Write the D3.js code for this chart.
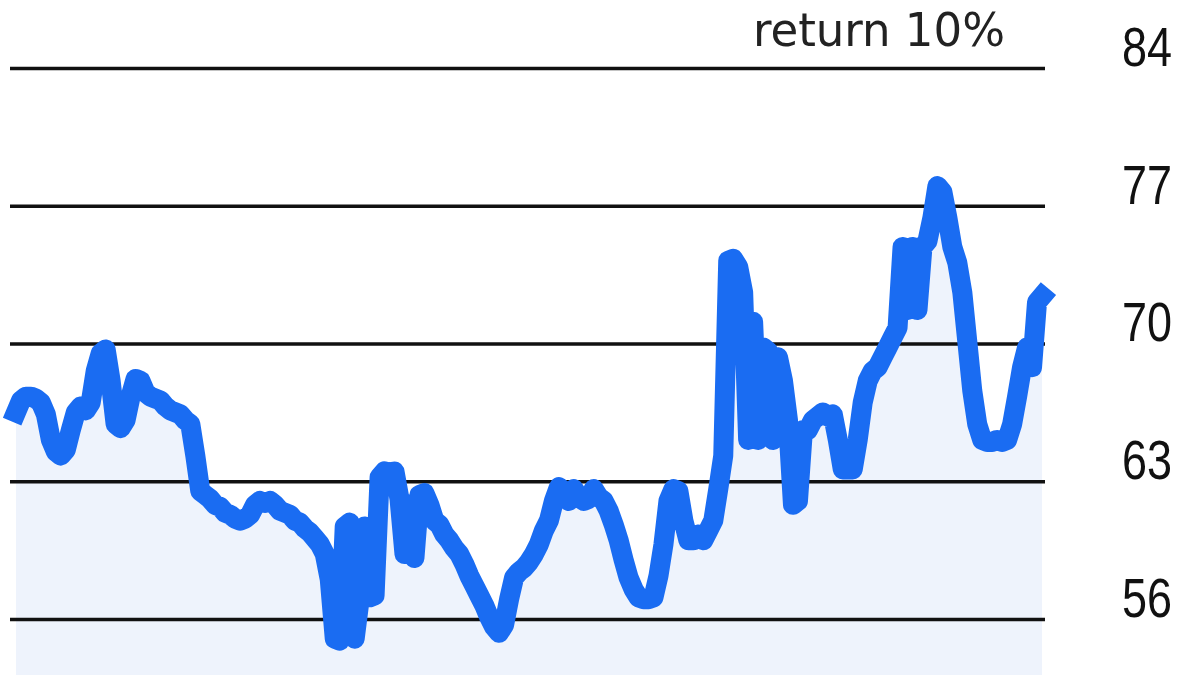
<!DOCTYPE html>
<html>
<head>
<meta charset="utf-8">
<style>
  html, body { margin: 0; padding: 0; background: #fff; }
  svg { display: block; }
</style>
</head>
<body>
<div class="chart"></div>
<script src="https://cdn.jsdelivr.net/npm/d3@7"></script>
<script>
'use strict';

// Values, one per trading day, left to right
var values = [
  66.5, 67.1, 67.3, 67.3, 67.2, 67.0, 66.4, 65.1, 64.5, 64.3,
  64.6, 65.6, 66.5, 66.8, 66.6, 67.0, 68.6, 69.5, 69.7, 68.1,
  65.9, 65.7, 66.1, 67.3, 68.2, 68.1, 67.5, 67.3, 67.2, 67.1,
  66.8, 66.6, 66.5, 66.4, 66.1, 65.9, 64.3, 62.5, 62.3, 62.1,
  61.8, 61.7, 61.4, 61.3, 61.1, 61.0, 61.1, 61.3, 61.8, 62.0,
  61.9, 62.0, 61.8, 61.5, 61.4, 61.3, 61.0, 60.9, 60.6, 60.4,
  60.1, 59.8, 59.3, 58.0, 55.0, 54.9, 60.7, 60.9, 55.0, 57.0,
  60.7, 57.1, 57.2, 63.2, 63.5, 63.4, 63.5, 62.1, 59.3, 61.8,
  59.1, 62.3, 62.4, 61.8, 61.0, 60.8, 60.3, 60.0, 59.6, 59.3,
  58.8, 58.2, 57.7, 57.2, 56.7, 56.1, 55.6, 55.3, 55.7, 57.0,
  58.1, 58.4, 58.6, 58.9, 59.3, 59.8, 60.5, 61.0, 62.0, 62.7,
  62.5, 62.0, 62.6, 62.2, 62.0, 62.1, 62.6, 62.2, 62.0, 61.5,
  60.8, 60.0, 59.0, 58.1, 57.5, 57.1, 57.0, 57.0, 57.1, 58.2,
  59.8, 62.0, 62.6, 62.5, 61.0, 60.0, 60.0, 60.3, 60.0, 60.5,
  61.0, 62.6, 64.3, 74.2, 74.3, 73.9, 72.6, 65.1, 71.1, 65.1,
  69.8, 69.6, 65.1, 69.3, 68.1, 66.1, 61.8, 62.0, 65.6, 65.6,
  66.1, 66.3, 66.5, 66.3, 66.4, 65.1, 63.6, 63.6, 63.6, 65.1,
  67.0, 68.1, 68.6, 68.8, 69.3, 69.8, 70.3, 70.8, 74.9, 71.7,
  74.9, 71.7, 74.9, 75.2, 76.4, 78.0, 77.7, 76.4, 74.9, 74.1,
  72.6, 70.1, 67.6, 65.9, 65.1, 65.0, 65.0, 65.1, 65.0, 65.1,
  65.9, 67.3, 68.8, 69.8, 68.8, 72.1, 72.4
];

// Day numbers for the x axis
var days = d3.range(values.length);

// Right hand axis
var tickValues = [56, 63, 70, 77, 84];
var title = 'return 10%';

(function() {
  // Width and height
  var w = 1200;
  var h = 675;
  var gridLeft = 10;
  var plotLeft = 16;
  var plotRight = 1042;
  var labelX = 1122;

  // Colors
  var LINE = '#1a6cf2';
  var FILL = '#eef3fc';
  var GRID = '#111';

  var svg = d3.select('.chart')
    .append('svg')
    .attr('width', w)
    .attr('height', h);

  // Scales
  var xScale = d3.scaleLinear()
    .domain([days[0], days[days.length - 1]])
    .range([plotLeft, plotRight]);

  var yScale = d3.scaleLinear()
    .domain([56, 84])
    .range([619, 68]);

  // Light area under the line
  var area = d3.area()
    .x(function(d, i) { return xScale(days[i]); })
    .y0(h)
    .y1(function(d) { return yScale(d); });

  svg.append('path')
    .datum(values)
    .attr('d', area)
    .attr('fill', FILL);

  // Gridlines and labels through an axis on the right
  var yAxis = d3.axisRight(yScale)
    .tickValues(tickValues)
    .tickSize(1045 - gridLeft)
    .tickPadding(labelX - 1045);

  var axis = svg.append('g')
    .attr('transform', 'translate(' + gridLeft + ',0)')
    .call(yAxis);

  axis.select('.domain').remove();
  axis.selectAll('.tick line')
    .attr('stroke', GRID)
    .attr('stroke-width', 3.5);
  axis.selectAll('.tick text')
    .attr('fill', '#111')
    .attr('dy', '-0.05em')
    .attr('font-family', '"Liberation Sans", sans-serif')
    .attr('font-size', 55)
    .attr('textLength', 50)
    .attr('lengthAdjust', 'spacingAndGlyphs');

  // Thick blue line
  var line = d3.line()
    .x(function(d, i) { return xScale(days[i]); })
    .y(function(d) { return yScale(d); });

  svg.append('path')
    .datum(values)
    .attr('d', line)
    .attr('fill', 'none')
    .attr('stroke', LINE)
    .attr('stroke-width', 20)
    .attr('stroke-linejoin', 'round')
    .attr('stroke-linecap', 'square');

  // Title at the top
  svg.append('text')
    .attr('x', 1005)
    .attr('y', 46)
    .attr('text-anchor', 'end')
    .attr('font-family', '"DejaVu Sans Condensed", "DejaVu Sans", sans-serif')
    .attr('font-size', 47)
    .attr('fill', '#222')
    .attr('textLength', 252)
    .attr('lengthAdjust', 'spacingAndGlyphs')
    .text(title);
})();
</script>
</body>
</html>
